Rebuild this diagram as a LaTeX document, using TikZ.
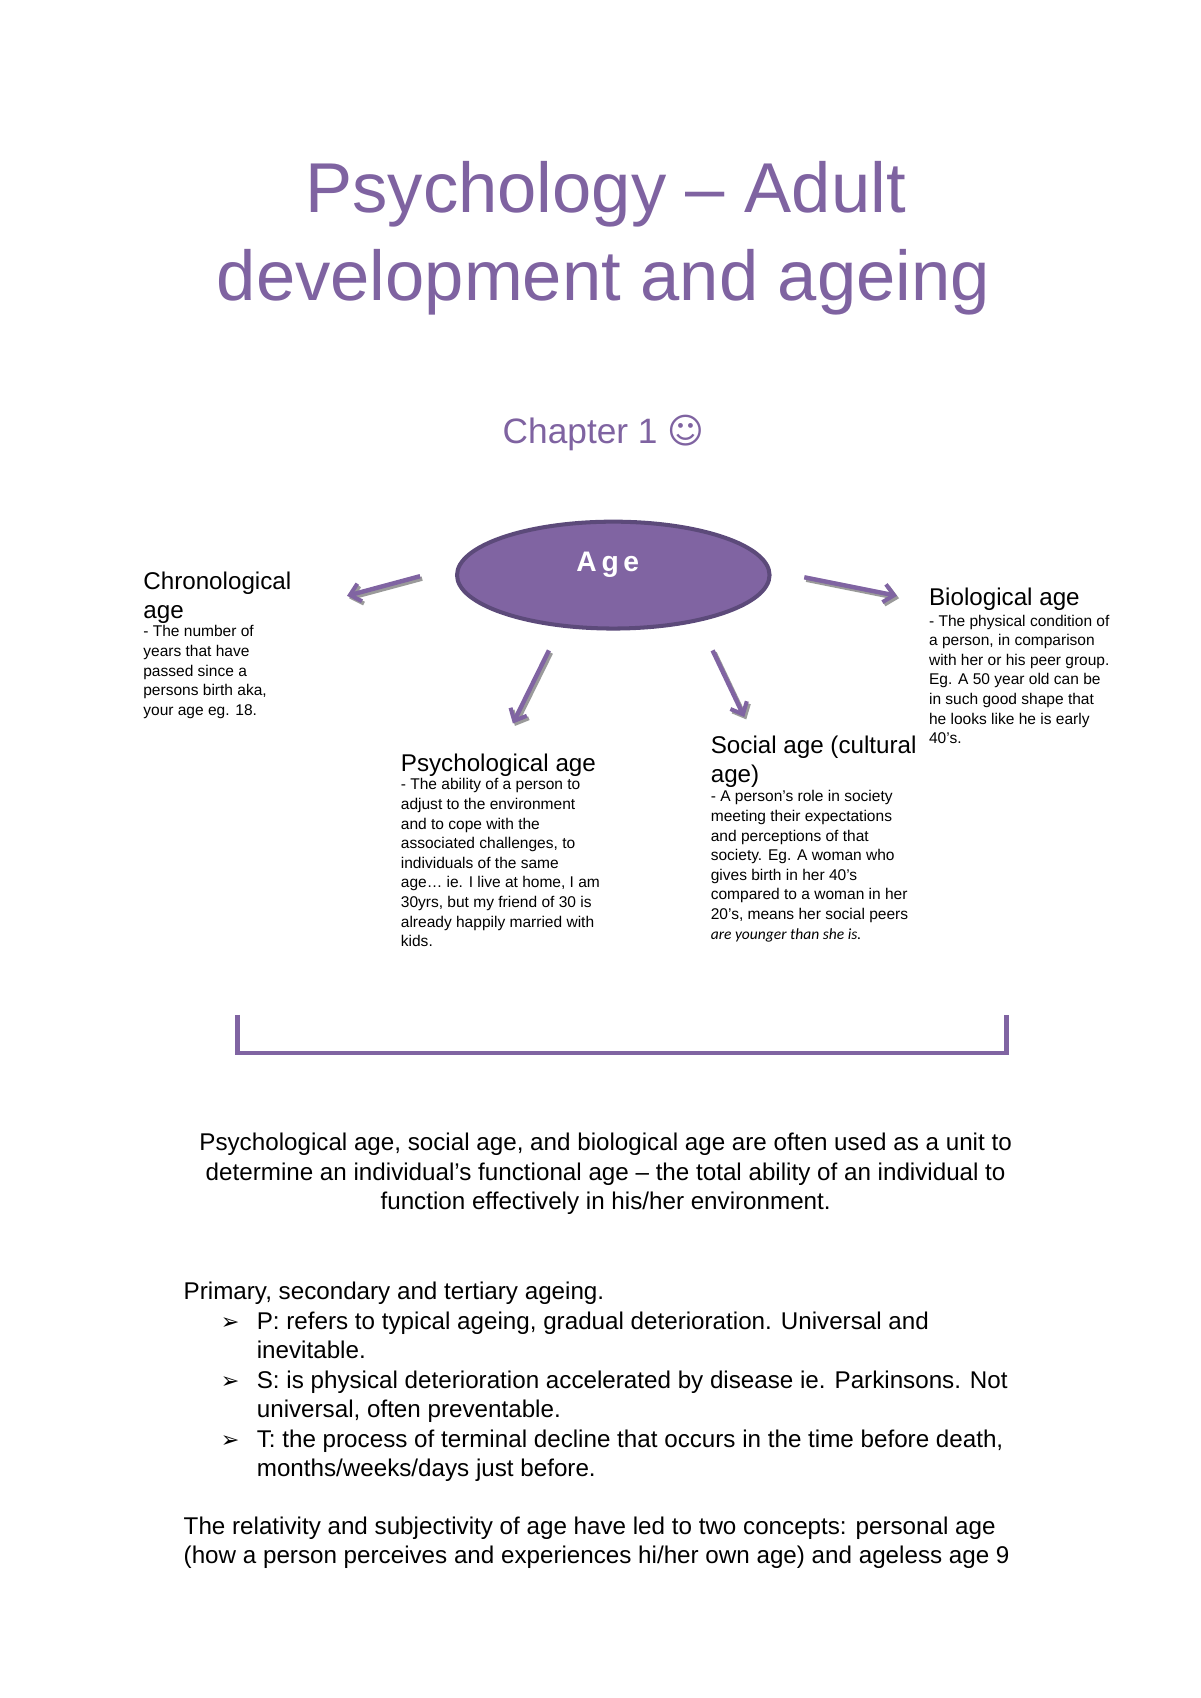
\documentclass[tikz,border=0pt]{standalone}
\usepackage{fontspec}
\setmainfont{Liberation Sans}
\newfontfamily\dejavu{DejaVu Sans}
\newfontfamily\carl{Carlito}
\usetikzlibrary{arrows.meta,shapes.geometric}
\definecolor{ttl}{HTML}{7F63A1}
\definecolor{efill}{HTML}{8064A2}
\definecolor{edge}{HTML}{5C4A7A}
\definecolor{shad}{HTML}{9A9A9A}
\begin{document}
\begin{tikzpicture}[x=0.5412pt,y=-0.5412pt,
  small/.style={font=\fontsize{7.7}{9.74}\selectfont,align=left,anchor=north west,inner sep=0pt},
  head/.style={font=\fontsize{12}{14.6}\selectfont,align=left,anchor=base west,inner sep=0pt},
  body/.style={font=\fontsize{12}{14.6}\selectfont,anchor=base west,inner sep=0pt},
  arr/.style={draw=efill,line width=2.2pt,-{Straight Barb[length=5pt,width=9pt,line width=2pt]}},
  arrs/.style={draw=shad,line width=2.2pt,-{Straight Barb[length=5pt,width=9pt,line width=2pt]}}]
\useasboundingbox (0,0) rectangle (1100,1556);
\fill[white] (0,0) rectangle (1100,1556);
% title
\node[text=ttl,font=\fontsize{35}{43}\selectfont,anchor=base,inner sep=0pt] (t1) at (555,195) {Psychology -- Adult};
\node[text=ttl,font=\fontsize{35}{43}\selectfont,anchor=base,inner sep=0pt] (t2) at (553,275) {development and ageing};
\node[text=ttl,font=\fontsize{17.5}{22}\selectfont,anchor=base,inner sep=0pt] (ch) at (553,406) {Chapter 1 {\dejavu ☺}};
% ellipse
\node[ellipse,fill=efill,draw=edge,line width=2pt,minimum width=155pt,minimum height=53pt,inner sep=0pt] (age) at (562,527) {};
\node[text=white,font=\bfseries\fontsize{14}{16}\selectfont,anchor=base,inner sep=0pt] (agelbl) at (557,524) {A\,g\,e};
% arrows
\coordinate (a1s) at (385,528); \coordinate (a1e) at (318,546);
\coordinate (a2s) at (737,529); \coordinate (a2e) at (822,546);
\coordinate (a3s) at (503,596); \coordinate (a3e) at (470,663);
\coordinate (a4s) at (653,596); \coordinate (a4e) at (682,657);
\foreach \s/\e in {a1s/a1e,a2s/a2e,a3s/a3e,a4s/a4e}{
  \draw[arrs,transform canvas={xshift=1pt,yshift=-1.2pt}] (\s) -- (\e);
  \draw[arr] (\s) -- (\e);}
% boxes
\node[head] (chr) at (131,567) {Chronological\\age};
\node[small] (chrt) at (131,573) {- The number of\\years that have\\passed since a\\persons birth aka,\\your age eg. 18.};
\node[head] (bio) at (851,555) {Biological age};
\node[small] (biot) at (851,563) {- The physical condition of\\a person, in comparison\\with her or his peer group.\\Eg. A 50 year old can be\\in such good shape that\\he looks like he is early\\40's.};
\node[head] (psy) at (367,707) {Psychological age};
\node[small] (psyt) at (367,713) {- The ability of a person to\\adjust to the environment\\and to cope with the\\associated challenges, to\\individuals of the same\\age\dots{} ie. I live at home, I am\\30yrs, but my friend of 30 is\\already happily married with\\kids.};
\node[head] (soc) at (651,717) {Social age (cultural\\age)};
\node[small] (soct) at (651,724) {- A person's role in society\\meeting their expectations\\and perceptions of that\\society. Eg. A woman who\\gives birth in her 40's\\compared to a woman in her\\20's, means her social peers\\{\carl\itshape are younger than she is.}};
% bracket
\coordinate (b1) at (218,930); \coordinate (b2) at (922,930);
\draw[efill,line width=2.4pt] (b1) -- (218,965) -- (922,965) -- (b2);
% paragraph
\node[font=\fontsize{12}{14.6}\selectfont,align=center,anchor=north,inner sep=0pt] (par) at (555,1038) {Psychological age, social age, and biological age are often used as a unit to\\determine an individual's functional age -- the total ability of an individual to\\function effectively in his/her environment.};
\node[body] (pr) at (168,1191) {Primary, secondary and tertiary ageing.};
\foreach \y/\t in {1218/{P: refers to typical ageing, gradual deterioration. Universal and},1245/{inevitable.},1272/{S: is physical deterioration accelerated by disease ie. Parkinsons. Not},1299/{universal, often preventable.},1326/{T: the process of terminal decline that occurs in the time before death,},1353/{months/weeks/days just before.}}{
  \node[body] at (235,\y) {\t};}
\foreach \y in {1218,1272,1326}{\node[body,font=\dejavu\fontsize{11}{13}\selectfont] at (202,\y) {➢};}
\node[body] (l1) at (168,1406) {The relativity and subjectivity of age have led to two concepts: personal age};
\node[body] (l2) at (168,1433) {(how a person perceives and experiences hi/her own age) and ageless age 9};
\end{tikzpicture}
\end{document}
